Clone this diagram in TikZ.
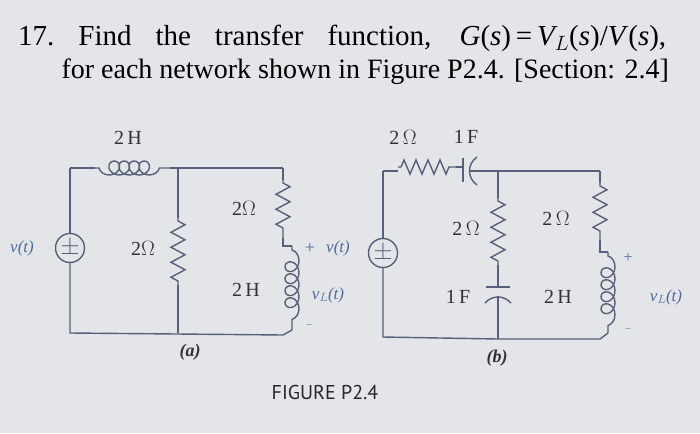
\documentclass[tikz,border=0pt]{standalone}
\usepackage{fontspec}
\setmainfont{Liberation Serif}
\newfontfamily\figfont{PT Sans}
\usetikzlibrary{decorations.pathmorphing,decorations.pathreplacing}
\definecolor{bg}{HTML}{E3E5E9}
\definecolor{wire}{HTML}{56607A}
\definecolor{blu}{HTML}{4F6A9C}
\tikzset{
  w/.style={draw=wire,line width=1.4pt},
  res/.style={w,decorate,decoration={zigzag,segment length=15pt,amplitude=7pt,pre length=3pt,post length=3pt}},
  ind/.style={w,decorate,decoration={coil,aspect=1.1,segment length=12pt,amplitude=7pt,pre length=4pt,post length=4pt}},
  lab/.style={font=\fontsize{20}{20}\selectfont,text=black!80},
  blab/.style={font=\fontsize{17}{17}\selectfont\itshape,text=blu},
  src/.style={circle,w,minimum size=29pt,inner sep=0pt,fill=bg,font=\fontsize{24}{24}\selectfont,align=center,text=wire}
}
\begin{document}
\begin{tikzpicture}[x=1pt,y=-1pt]
\fill[bg] (0,0) rectangle (700,433);
\useasboundingbox (0,0) rectangle (700,433);
% title
\node[anchor=west,font=\fontsize{29}{29}\selectfont,inner sep=0pt] (t1) at (18,38) {\makebox[648pt][s]{17.\ Find the transfer function, \textit{G}(\textit{s})\,=\,\textit{V$_L$}(\textit{s})/\textit{V}(\textit{s}),}};
\node[anchor=west,font=\fontsize{28}{28}\selectfont] (t2) at (58,72) {for each network shown in Figure P2.4. [Section: 2.4]};
% ---- circuit (a)
\coordinate (a1) at (70,168); \coordinate (a2) at (178,168); \coordinate (a3) at (283,168);
\coordinate (a4) at (70,333); \coordinate (a5) at (178,333); \coordinate (a6) at (283,335);
\node[src] (sa) at (70,248) {$\pm$};
\draw[w] (a1) -- (sa.north); \draw[w] (sa.south) -- (a4) -- (a6);
\draw[w] (a1) -- (95,168); \draw[ind,decoration={mirror,segment length=10pt}] (95,168) -- (170,168); \draw[w] (170,168) -- (a3);
\draw[w] (a2) -- (178,218); \draw[res] (178,218) -- (178,285); \draw[w] (178,285) -- (a5);
\draw[w] (a3) -- (283,180); \draw[res] (283,180) -- (283,238); \draw[w] (283,238) -- (283,246) -- (292,246);
\draw[ind] (292,246) -- (292,330); \draw[w] (292,330) -- (283,335);
\node[lab] (la1) at (128,138) {2\,H};
\node[lab] (la2) at (143,248) {2$\Omega$};
\node[lab] (la3) at (244,208) {2$\Omega$};
\node[lab] (la4) at (246,290) {2\,H};
\node[blab] (la5) at (22,248) {v(t)};
\node[font=\fontsize{18}{18}\selectfont,text=blu] (la6) at (310,248) {+};
\node[blab] (la7) at (338,248) {v(t)};
\node[blab] (la8) at (328,295) {v$_L$(t)};
\node[text=blu] (la9) at (309,326) {--};
\node[font=\fontsize{18}{18}\selectfont\itshape\bfseries,text=black!80] (la10) at (190,352) {(a)};
% ---- circuit (b)
\coordinate (b1) at (383,171); \coordinate (b2) at (498,171); \coordinate (b3) at (600,171);
\coordinate (b4) at (383,337); \coordinate (b5) at (498,339); \coordinate (b6) at (600,339);
\node[src] (sb) at (383,253) {$\pm$};
\draw[w] (b1) -- (sb.north); \draw[w] (sb.south) -- (b4) -- (b5) -- (b6);
\draw[w] (b1) -- (398,171); \draw[res,decoration={segment length=12pt}] (398,167) -- (456,167); \draw[w] (456,167) -- (463,167);
\draw[w] (463,158) -- (463,182);
\draw[w] (477,157) .. controls (467,164) and (467,178) .. (477,185);
\draw[w] (470,171) -- (b2) -- (b3);
\draw[w] (b2) -- (498,198); \draw[res] (498,198) -- (498,265); \draw[w] (498,265) -- (498,287);
\draw[w] (486,287) -- (510,287);
\draw[w] (485,303) .. controls (492,295) and (504,295) .. (511,303);
\draw[w] (498,296) -- (b5);
\draw[w] (b3) -- (600,183); \draw[res] (600,183) -- (600,240); \draw[w] (600,240) -- (600,252) -- (608,252);
\draw[ind] (608,252) -- (608,333); \draw[w] (608,333) -- (b6);
\node[lab] (lb1) at (403,137) {2\,$\Omega$};
\node[lab] (lb2) at (466,137) {1\,F};
\node[lab] (lb3) at (466,228) {2\,$\Omega$};
\node[lab] (lb4) at (556,218) {2\,$\Omega$};
\node[lab] (lb5) at (458,297) {1\,F};
\node[lab] (lb6) at (558,297) {2\,H};
\node[font=\fontsize{16}{16}\selectfont,text=blu] (lb7) at (628,258) {+};
\node[blab] (lb8) at (666,297) {v$_L$(t)};
\node[text=blu] (lb9) at (628,330) {--};
\node[font=\fontsize{18}{18}\selectfont\itshape\bfseries,text=black!80] (lb10) at (497,358) {(b)};
\node[font=\figfont\fontsize{20}{20}\selectfont,text=black!85] (fig) at (325,392) {FIGURE P2.4};
\end{tikzpicture}
\end{document}
